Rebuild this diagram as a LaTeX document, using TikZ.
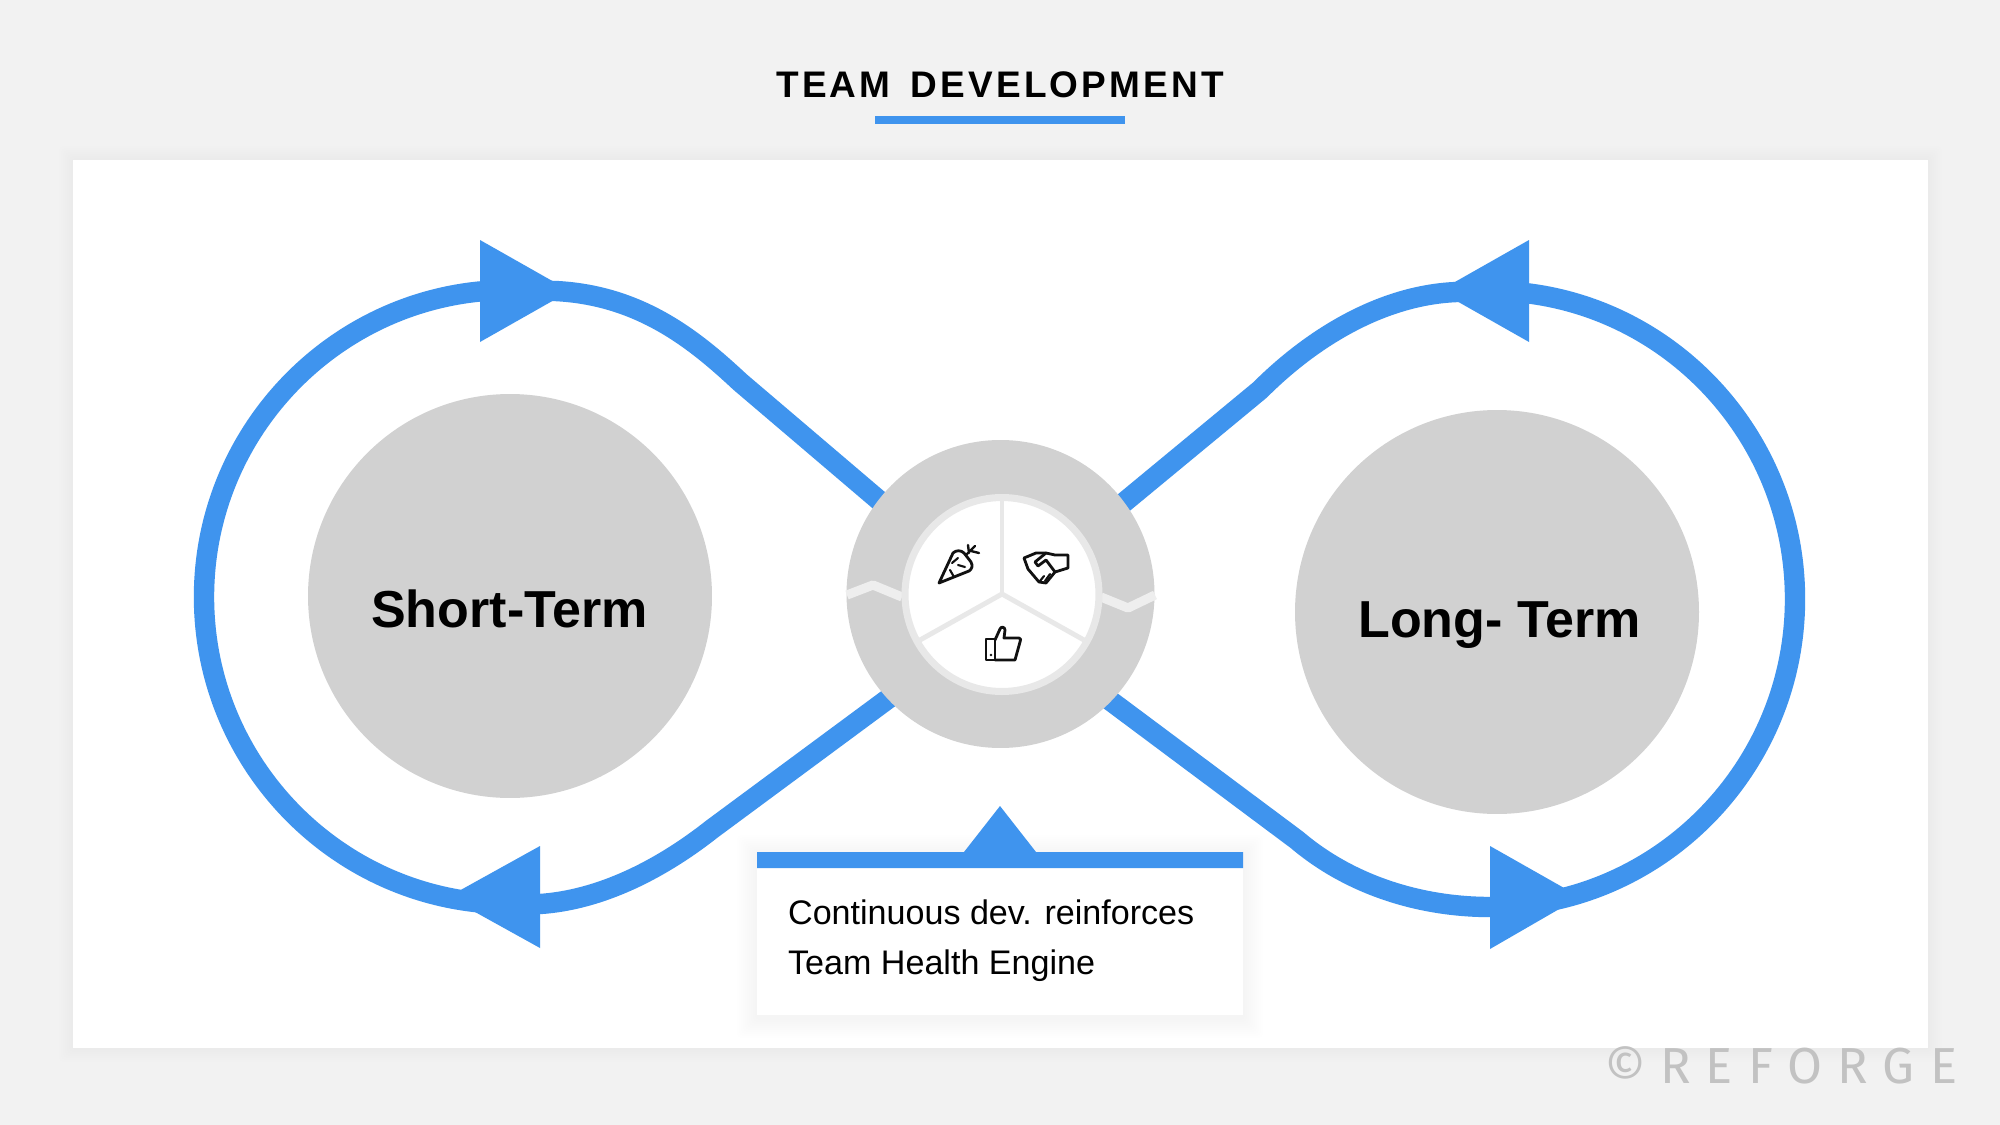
\documentclass[tikz,border=0pt]{standalone}
\usepackage{fontspec}
\setmainfont{Liberation Sans}
\newfontfamily\markfont{Fira Sans}
\definecolor{flowblue}{HTML}{3F94EE}
\definecolor{discgrey}{HTML}{D1D1D1}
\definecolor{pagegrey}{HTML}{F2F2F2}
\definecolor{seamgrey}{HTML}{EEEEEE}
\definecolor{spokegrey}{HTML}{E8E8E8}
\definecolor{markgrey}{HTML}{C2C2C2}
\definecolor{inkblack}{HTML}{111111}
\tikzset{
  flow/.style={draw=flowblue,line width=29pt,line join=round},
  head/.style={fill=flowblue},
  disc/.style={circle,fill=discgrey,inner sep=0pt,minimum size=20.2cm},
  hubdisc/.style={circle,fill=discgrey,inner sep=0pt,minimum size=15.4cm},
  hubring/.style={circle,fill=white,draw=spokegrey,line width=10pt,inner sep=0pt,minimum size=9.7cm},
  spoke/.style={draw=spokegrey,line width=7pt},
  seam/.style={draw=seamgrey,line width=13pt,line join=round},
  icon/.style={draw=inkblack,line width=4pt,line join=round,line cap=round},
  labeltext/.style={inner sep=0pt,anchor=base,text=black},
}
\begin{document}
\begin{tikzpicture}[x=0.05cm,y=-0.05cm]
\useasboundingbox (0,0) rectangle (2000,1125);
\fill[pagegrey] (0,0) rectangle (2000,1125);
% panel and its soft shadow
\foreach \s in {2,4,...,14}{
  \fill[black,opacity=0.003,rounded corners=6pt] (73-\s,160-\s) rectangle (1928+\s,1048+\s);
}
\fill[white] (73,160) rectangle (1928,1048);
% title
\node[labeltext] (title) at (1000,98) {\fontsize{52.6}{60}\selectfont\addfontfeature{LetterSpace=8.5}\bfseries TEAM\hspace{10pt} DEVELOPMENT};
\fill[flowblue] (875,116) rectangle (1125,124);
% connector end points
\coordinate (ulend) at (895,514);
\coordinate (ulkink) at (740,382);
\coordinate (ultop) at (555,291);
\coordinate (lltop) at (510,290);
\coordinate (llleft) at (204,597);
\coordinate (llbot) at (510,904);
\coordinate (llkink) at (712,829);
\coordinate (llend) at (900,690);
\coordinate (urend) at (1110,514);
\coordinate (urkink) at (1260,390);
\coordinate (urtop) at (1457,292);
\coordinate (rrtop) at (1490,291);
\coordinate (rrright) at (1795,599);
\coordinate (rrbot) at (1490,907);
\coordinate (lrkink) at (1297,840);
\coordinate (lrend) at (1100,693);
% left loop
\draw[flow] (ulend) -- (ulkink)
  .. controls (695,340) and (640,295) .. (ultop) -- (lltop)
  .. controls (341,290) and (204,428) .. (llleft)
  .. controls (204,766) and (341,904) .. (llbot)
  .. controls (525,904) and (530,904) .. (540,904)
  .. controls (600,900) and (660,870) .. (llkink) -- (llend);
% right loop
\draw[flow] (urend) -- (urkink)
  .. controls (1310,340) and (1380,295) .. (urtop) -- (rrtop)
  .. controls (1658,291) and (1795,429) .. (rrright)
  .. controls (1795,769) and (1658,907) .. (rrbot)
  .. controls (1420,907) and (1350,885) .. (lrkink) -- (lrend);
% arrowheads
\fill[head] (480,240) -- (570,291) -- (480,342) -- cycle;
\fill[head] (540,846) -- (448,897) -- (540,948) -- cycle;
\fill[head] (1529,240) -- (1439,291) -- (1529,342) -- cycle;
\fill[head] (1490,846) -- (1580,897) -- (1490,949) -- cycle;
% big discs
\node[disc] (short) at (510,596) {};
\node[disc] (long) at (1497,612) {};
\node[labeltext] (shorttext) at (509.5,627) {\fontsize{74}{80}\selectfont\bfseries Short-Term};
\node[labeltext] (longtext) at (1499.5,637) {\fontsize{74}{80}\selectfont\bfseries Long- Term};
% hub
\node[hubdisc] (hub) at (1000.5,594) {};
\draw[seam] (847,595) -- (873,585) -- (902,597);
\draw[seam] (1101,597) -- (1128,608) -- (1155,595);
\node[hubring] (ring) at (1002,594.5) {};
\coordinate (spokec) at (1002,594);
\draw[spoke] (spokec) -- (1002,500);
\draw[spoke] (spokec) -- (920,640);
\draw[spoke] (spokec) -- (1084,640);
% carrot
\draw[icon] (939,583) -- (953,553) .. controls (956,550) and (961,550) .. (964,553)
  -- (971,562) .. controls (973,566) and (972,569) .. (969,571) -- cycle;
\draw[icon,line width=3pt] (958,558) -- (952,563) (965,567) -- (958,565) (954,577) -- (950,570);
\draw[icon,line width=3.4pt] (966,555) -- (975,546) (968,545) -- (969,553) (971,551) -- (979,553);
% handshake
\draw[icon] (1024,558) -- (1036,553) -- (1046,553) -- (1055,555) -- (1068,555) -- (1068,568) -- (1055,572)
  -- (1046,583) -- (1039,582) -- (1028,569) -- cycle;
\draw[icon] (1046,553) -- (1035,562) -- (1038,566) -- (1046,560) -- (1055,572);
\draw[icon,line width=3pt] (1040,581) -- (1044,576) (1045,581) -- (1050,574);
% thumb
\draw[icon] (986,639) rectangle (995,660);
\draw[icon] (995,640) -- (1000,629) .. controls (1001,626) and (1005,627) .. (1005,630)
  -- (1004,638) -- (1019,638) .. controls (1021,638) and (1021,640) .. (1020,642) -- (1015,660) -- (995,660);
\fill[inkblack] (991,655) circle (1.4);
% callout
\foreach \s in {2,4,...,20}{
  \fill[black,opacity=0.004,rounded corners=6pt] (757-\s,853+2-\s) rectangle (1243+\s,1015+3+\s);
}
\fill[white] (757,860) rectangle (1243,1015);
\fill[flowblue] (757,852) -- (964,852) -- (1000,806) -- (1036,852) -- (1243,852) -- (1243,868) -- (757,868) -- cycle;
\node[labeltext,anchor=base west] (note1) at (788,924) {\fontsize{48.5}{50}\selectfont Continuous dev. reinforces};
\node[labeltext,anchor=base west] (note2) at (788,974) {\fontsize{48.5}{50}\selectfont Team Health Engine};
% watermark
\node[labeltext,anchor=base west,text=markgrey] (markc) at (1604,1085) {\fontsize{74}{78}\selectfont\markfont\symbol{"00A9}};
\node[labeltext,anchor=base west,text=markgrey] (mark) at (1660,1083) {\fontsize{72}{76}\selectfont\markfont\addfontfeature{LetterSpace=30}REFORGE};
\end{tikzpicture}
\end{document}
